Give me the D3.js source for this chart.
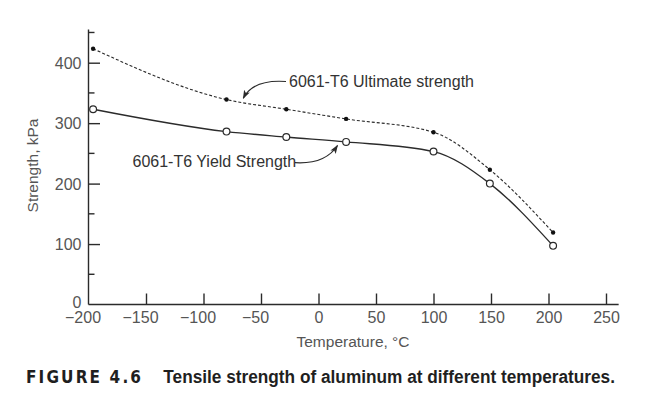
<!DOCTYPE html>
<html>
<head>
<meta charset="utf-8">
<script src="https://cdn.jsdelivr.net/npm/d3@7"></script>
<style>
  html, body { margin: 0; padding: 0; background: #fff; }
  svg { display: block; font-family: "Liberation Sans", Arial, sans-serif; }
</style>
</head>
<body>
<svg id="chart" width="666" height="406"></svg>
<script>
const temperatures = [-196, -80, -28, 24, 100, 149, 204];
const ultimateStrength = [423, 339, 323, 307, 285, 223, 119];
const yieldStrength = [323, 286, 277, 269, 253, 200, 97];
const xTicks = [-200, -150, -100, -50, 0, 50, 100, 150, 200, 250];
const yTicks = [0, 100, 200, 300, 400];
const yMinorTicks = [50, 150, 250, 350, 450];

const svg = d3.select("#chart");
const ink = "#2b2b2b";
const labelInk = "#555";

const x = d3.scaleLinear().domain([-200, 250]).range([88.5, 606]);
const y = d3.scaleLinear().domain([0, 400]).range([304.5, 62.7]);

// axes: ticks point inward, like the printed figure
const xAxis = d3.axisBottom(x).tickValues(xTicks).tickSize(-11).tickSizeOuter(0)
  .tickFormat((d) => (d < 0 ? "\u2212" + Math.abs(d) : d));
const gx = svg.append("g").attr("transform", `translate(0,${y(0)})`).call(xAxis);
gx.select(".domain").remove();
gx.append("line")
  .attr("x1", x(-200)).attr("x2", x(261)).attr("stroke", ink).attr("stroke-width", 1.4);
gx.selectAll(".tick line").attr("stroke", ink).attr("stroke-width", 1.4);
gx.selectAll(".tick text")
  .attr("fill", labelInk)
  .attr("font-size", 16)
  .attr("y", 7.5)
  .attr("dy", "0.71em")
  .attr("dx", (d) => (d < 0 ? -6 : 0));
gx.selectAll(".tick").filter((d) => d === -200).select("line").remove();

const yAxis = d3.axisLeft(y).tickValues(yTicks).tickSize(-11.5).tickSizeOuter(0).tickPadding(0);
const gy = svg.append("g").attr("transform", `translate(${x(-200)},0)`).call(yAxis);
gy.select(".domain").remove();
gy.append("line")
  .attr("y1", y(0)).attr("y2", y(455)).attr("stroke", ink).attr("stroke-width", 1.4);
gy.selectAll(".tick line").attr("stroke", ink).attr("stroke-width", 1.4);
gy.selectAll(".tick").filter((d) => d === 0).select("line").remove();
gy.selectAll(".tick text")
  .attr("fill", labelInk)
  .attr("font-size", 16)
  .attr("x", -7)
  .attr("dy", (d) => (d === 0 ? "0.2em" : "0.36em"));
gy.selectAll("line.minor")
  .data(yMinorTicks)
  .enter()
  .append("line")
  .attr("class", "minor")
  .attr("x1", 0).attr("x2", 6)
  .attr("y1", (d) => y(d)).attr("y2", (d) => y(d))
  .attr("stroke", ink).attr("stroke-width", 1.4);

svg.append("text")
  .attr("x", 353).attr("y", 346.5)
  .attr("text-anchor", "middle")
  .attr("font-size", 15.5)
  .attr("fill", labelInk)
  .text("Temperature, \u00b0C");

svg.append("text")
  .attr("transform", "translate(38,165.5) rotate(-90)")
  .attr("text-anchor", "middle")
  .attr("font-size", 15.5)
  .attr("fill", labelInk)
  .text("Strength, kPa");

// curves
const line = d3.line()
  .x((d) => x(d.t))
  .y((d) => y(d.v))
  .curve(d3.curveMonotoneX);
const ultimate = temperatures.map((t, i) => ({ t, v: ultimateStrength[i] }));
const yieldPts = temperatures.map((t, i) => ({ t, v: yieldStrength[i] }));

svg.append("path")
  .datum(ultimate)
  .attr("d", line)
  .attr("fill", "none")
  .attr("stroke", ink)
  .attr("stroke-width", 1.1)
  .attr("stroke-dasharray", "3 2");
svg.append("path")
  .datum(yieldPts)
  .attr("d", line)
  .attr("fill", "none")
  .attr("stroke", ink)
  .attr("stroke-width", 1.4);

svg.selectAll("circle.ult")
  .data(ultimate)
  .enter()
  .append("circle")
  .attr("class", "ult")
  .attr("cx", (d) => x(d.t))
  .attr("cy", (d) => y(d.v))
  .attr("r", 2.2)
  .attr("fill", "#111");
svg.selectAll("circle.yld")
  .data(yieldPts)
  .enter()
  .append("circle")
  .attr("class", "yld")
  .attr("cx", (d) => x(d.t))
  .attr("cy", (d) => y(d.v))
  .attr("r", 3.4)
  .attr("fill", "#fff")
  .attr("stroke", ink)
  .attr("stroke-width", 1.2);

// callouts
svg.append("defs").append("marker")
  .attr("id", "head")
  .attr("viewBox", "0 0 10 10")
  .attr("refX", 9).attr("refY", 5)
  .attr("markerWidth", 9).attr("markerHeight", 9)
  .attr("markerUnits", "userSpaceOnUse")
  .attr("orient", "auto")
  .append("path")
  .attr("d", "M0,1.5 L10,5 L0,8.5 L2.5,5 Z")
  .attr("fill", ink);

svg.append("path")
  .attr("d", "M286,81.5 C265,80 250,85 243.3,98.3")
  .attr("fill", "none").attr("stroke", ink).attr("stroke-width", 1.2)
  .attr("marker-end", "url(#head)");
svg.append("text")
  .attr("x", 289).attr("y", 86.5)
  .attr("font-size", 16).attr("fill", "#333")
  .text("6061-T6 Ultimate strength");

svg.append("path")
  .attr("d", "M295,162.7 C317,164 330,157 337.5,145.5")
  .attr("fill", "none").attr("stroke", ink).attr("stroke-width", 1.2)
  .attr("marker-end", "url(#head)");
svg.append("text")
  .attr("x", 132.5).attr("y", 166.5)
  .attr("font-size", 16).attr("fill", "#333")
  .text("6061-T6 Yield Strength");

// caption
svg.append("text")
  .attr("x", 26).attr("y", 383.3)
  .attr("font-family", "'Liberation Sans Narrow', 'DejaVu Sans Condensed', sans-serif")
  .attr("font-weight", "bold")
  .attr("font-size", 17)
  .attr("fill", "#1f1f1f")
  .attr("textLength", 115)
  .attr("lengthAdjust", "spacing")
  .text("FIGURE 4.6");
svg.append("text")
  .attr("x", 163.3).attr("y", 383.3)
  .attr("font-weight", "bold")
  .attr("font-size", 17.5)
  .attr("fill", "#1f1f1f")
  .attr("textLength", 451.7)
  .attr("lengthAdjust", "spacingAndGlyphs")
  .text("Tensile strength of aluminum at different temperatures.");
</script>
</body>
</html>
